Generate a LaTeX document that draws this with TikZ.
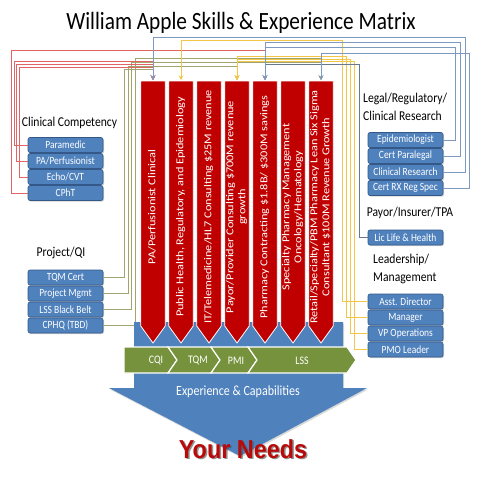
\documentclass[tikz,border=0pt]{standalone}
\usepackage{fontspec}
\setmainfont{Carlito}[FakeStretch=0.86]
\newfontfamily\rotfont{Carlito}
\newfontfamily\needsfont{Liberation Sans}[FakeStretch=0.9]
\usepackage{graphicx}
\usetikzlibrary{arrows.meta,shadows}
\definecolor{boxblue}{RGB}{79,129,189}
\definecolor{boxedge}{RGB}{52,88,135}
\definecolor{arrred}{RGB}{192,0,0}
\definecolor{bigblue}{RGB}{79,129,189}
\definecolor{chevgreen}{RGB}{118,146,60}
\definecolor{lnred}{RGB}{226,100,100}
\definecolor{lnolive}{RGB}{160,165,112}
\definecolor{lnyellow}{RGB}{242,198,70}
\definecolor{lnblue}{RGB}{125,153,192}
\definecolor{lngrey}{RGB}{105,120,145}
\definecolor{needsred}{RGB}{185,10,10}
\begin{document}
\begin{tikzpicture}[x=1pt,y=-1pt,
  skillbox/.style={draw=boxedge, line width=0.6pt, fill=boxblue, rounded corners=2pt,
    minimum width=75pt, minimum height=15pt, inner sep=0pt, text=white,
    font=\fontsize{11}{12}\selectfont,
    drop shadow={opacity=0.35, shadow xshift=1pt, shadow yshift=-1.2pt}},
  grouplabel/.style={font=\fontsize{13.5}{18}\selectfont, inner sep=0pt, align=left},
  conn/.style={line width=0.9pt, -{Stealth[length=4.5pt,width=4.5pt]}},
  arrowtext/.style={rotate=90, text=white, inner sep=0pt},
  redarrow/.style={fill=arrred, draw=white, line width=0.8pt},
  chev/.style={fill=chevgreen, draw=white, line width=1.2pt, line join=miter},
  chevtext/.style={text=white, font=\fontsize{11.5}{12}\selectfont, inner sep=0pt}
]
\useasboundingbox (0,0) rectangle (480,480);
\fill[white] (0,0) rectangle (480,480);

% title
\node[anchor=base, inner sep=0pt, font=\fontsize{24.8}{28}\selectfont] (title) at (241,29)
  {William Apple Skills \& Experience Matrix};

% arrow top targets
\foreach \i/\x in {1/153,2/181,3/209,4/237,5/265,6/293,7/321}
  \coordinate (t\i) at (\x,80);

% group labels
\node[grouplabel] (lcc) at (69.5,123) {Clinical Competency};
\node[grouplabel] (lpq) at (61,253) {Project/QI};
\node[grouplabel, anchor=west] (llr) at (363,107) {Legal/Regulatory/\\Clinical Research};
\node[grouplabel] (lpy) at (410,213) {Payor/Insurer/TPA};
\node[grouplabel, anchor=west] (llm) at (373,269) {Leadership/\\Management};

% boxes
\node[skillbox] (cc1) at (65.5,145) {Paramedic};
\node[skillbox] (cc2) at (65.5,161) {PA/Perfusionist};
\node[skillbox] (cc3) at (65.5,177) {Echo/CVT};
\node[skillbox] (cc4) at (65.5,193) {CPhT};
\node[skillbox] (pq1) at (65.5,277.5) {TQM Cert};
\node[skillbox] (pq2) at (65.5,293.5) {Project Mgmt};
\node[skillbox] (pq3) at (65.5,309.5) {LSS Black Belt};
\node[skillbox] (pq4) at (65.5,325.5) {CPHQ (TBD)};
\node[skillbox] (lr1) at (405.5,140) {Epidemiologist};
\node[skillbox] (lr2) at (405.5,156) {Cert Paralegal};
\node[skillbox] (lr3) at (405.5,172) {Clinical Research};
\node[skillbox] (lr4) at (405.5,188) {Cert RX Reg Spec};
\node[skillbox] (lic) at (405.5,237.5) {Lic Life \& Health};
\node[skillbox] (lm1) at (405.5,301.5) {Asst. Director};
\node[skillbox] (lm2) at (405.5,317.5) {Manager};
\node[skillbox] (lm3) at (405.5,333.5) {VP Operations};
\node[skillbox] (lm4) at (405.5,349.5) {PMO Leader};

% connectors: olive
\draw[conn, lnolive] (pq1.east) -| (124,69.5) -| (t1);
\draw[conn, lnolive] (pq2.east) -| (128,66) -| (t4);
\draw[conn, lnolive] (pq3.east) -| (131.5,62.5) -| (t7);
\draw[conn, lnolive] (pq4.east) -| (135,58) -| (t7);
% red
\draw[conn, lnred] (cc1.west) -| (14,61) -| (t1);
\draw[conn, lnred] (cc2.west) -| (16.5,64) -| (t1);
\draw[conn, lnred] (cc3.west) -| (19,67) -| (t1);
\draw[conn, lnred] (cc4.west) -| (11.5,50) -| (t5);
% yellow
\draw[conn, lnyellow] (lm1.west) -| (342,40) -| (t2);
\draw[conn, lnyellow] (lm2.west) -| (346,56) -| (t4);
\draw[conn, lnyellow] (lm3.west) -| (350,59) -| (t4);
\draw[conn, lnyellow] (lm4.west) -| (354,61.5) -| (t4);
% blue
\draw[conn, lngrey] (lic.west) -| (359,64) -| (t5);
\draw[conn, lnblue] (lr1.east) -| (455,47) -| (t5);
\draw[conn, lnblue] (lr2.east) -| (460,42) -| (t5);
\draw[conn, lnblue] (lr4.east) -| (469,53) -| (t7);
\draw[conn, lnblue] (lr3.east) -| (465,37.5) -| (t1);

% big blue arrow
\fill[bigblue, drop shadow={opacity=0.3, shadow xshift=1pt, shadow yshift=-1.5pt}]
  (134,322) -- (343,322) -- (343,388) -- (367,388) -- (240,456) -- (109,388) -- (134,388) -- cycle;

% red arrows
\foreach \c in {153,181,209,237,265,293,321}
  \draw[redarrow] ({\c-12.25},81) -- ({\c+12.25},81) -- ({\c+12.25},326) -- (\c,343) -- ({\c-12.25},326) -- cycle;

% arrow texts
\newcommand{\rtext}[1]{\scalebox{1}[0.86]{\rotfont\fontsize{12.3}{14}\selectfont\begin{tabular}{@{}c@{}}#1\end{tabular}}}
\node[arrowtext] (a1) at (153,207) {\rtext{PA/Perfusionist Clinical}};
\node[arrowtext] (a2) at (181,207) {\rtext{Public Health, Regulatory, and Epidemiology}};
\node[arrowtext] (a3) at (209,207) {\rtext{IT/Telemedicine/HL7 Consulting \$25M revenue}};
\node[arrowtext] (a4) at (237,207) {\rtext{Payor/Provider Consulting \$700M revenue\\growth}};
\node[arrowtext] (a5) at (265,207) {\rtext{Pharmacy Contracting \$1.8B/ \$300M savings}};
\node[arrowtext] (a6) at (293,207) {\rtext{Specialty Pharmacy Management\\Oncology/Hematology}};
\node[arrowtext] (a7) at (321,207) {\rtext{Retail/Specialty/PBM Pharmacy Lean Six Sigma\\Consultant \$100M Revenue Growth}};

% green chevrons
\draw[chev] (124,347) -- (168,347) -- (177,360) -- (168,373) -- (124,373) -- cycle;
\draw[chev] (168,347) -- (211,347) -- (220,360) -- (211,373) -- (168,373) -- (177,360) -- cycle;
\draw[chev] (211,347) -- (248,347) -- (257,360) -- (248,373) -- (211,373) -- (220,360) -- cycle;
\draw[chev] (248,347) -- (347,347) -- (356,360) -- (347,373) -- (248,373) -- (257,360) -- cycle;
\node[chevtext] (cqi) at (156,361) {CQI};
\node[chevtext] (tqm) at (198,361) {TQM};
\node[chevtext] (pmi) at (236,361) {PMI};
\node[chevtext] (lss) at (302,361) {LSS};

% bottom texts
\node[text=white, inner sep=0pt, font=\fontsize{14}{16}\selectfont] (exp) at (238,392) {Experience \& Capabilities};
\node[text=black!70, opacity=0.6, inner sep=0pt, font=\needsfont\bfseries\fontsize{26}{28}\selectfont] at (244.5,450.5) {Your Needs};
\node[text=needsred, inner sep=0pt, font=\needsfont\bfseries\fontsize{26}{28}\selectfont] (needs) at (243,449) {Your Needs};
\end{tikzpicture}
\end{document}
